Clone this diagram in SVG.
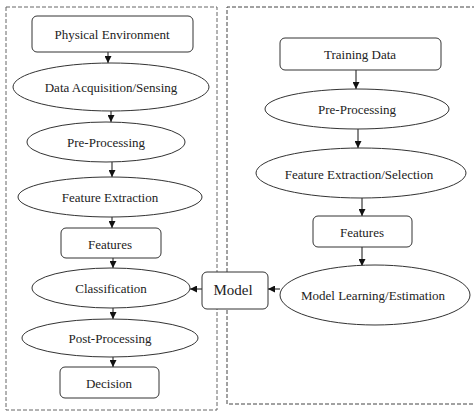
<svg xmlns="http://www.w3.org/2000/svg" width="474" height="412" viewBox="0 0 474 412">
<defs>
<marker id="ah" viewBox="0 0 10 10" refX="10" refY="5" markerWidth="7" markerHeight="7" markerUnits="userSpaceOnUse" orient="auto">
<path d="M0,0 L10,5 L0,10 z" fill="#111"/>
</marker>
</defs>
<style>
.box{fill:#fff;stroke:#333;stroke-width:1}
.ell{fill:#fff;stroke:#333;stroke-width:1}
.t{font-family:'Liberation Serif','DejaVu Serif',serif;font-size:13px;fill:#222;text-anchor:middle;dominant-baseline:central}
.dash{fill:none;stroke:#666;stroke-width:1;stroke-dasharray:4,2}
.dash2{fill:none;stroke:#444;stroke-width:1;stroke-dasharray:4,2}
.c{stroke:#111;stroke-width:1;fill:none;marker-end:url(#ah)}
</style>
<rect width="474" height="412" fill="#fff"/>
<g id="panels">
<rect class="dash" x="6" y="7" width="211" height="403"/>
<path class="dash2" d="M476,7 H227 V404 H476"/>
</g>
<g id="connectors">
<line class="c" x1="108" y1="52" x2="108" y2="63"/>
<line class="c" x1="111" y1="111" x2="111" y2="122"/>
<line class="c" x1="112" y1="162" x2="112" y2="177"/>
<line class="c" x1="112" y1="217" x2="112" y2="228"/>
<line class="c" x1="113" y1="258" x2="113" y2="268"/>
<line class="c" x1="113" y1="308" x2="113" y2="319"/>
<line class="c" x1="113" y1="357" x2="113" y2="367"/>
<line class="c" x1="202" y1="289" x2="190" y2="289"/>
<line class="c" x1="356" y1="70" x2="356" y2="89"/>
<line class="c" x1="358" y1="129" x2="358" y2="148"/>
<line class="c" x1="362" y1="198" x2="362" y2="216"/>
<line class="c" x1="362" y1="247" x2="362" y2="266"/>
<line class="c" x1="280" y1="289" x2="268" y2="289"/>
</g>
<g id="physical-environment"><rect class="box" x="32" y="16" width="161" height="36" rx="5"/><text class="t" x="112" y="34">Physical Environment</text></g>
<g id="data-acquisition"><ellipse class="ell" cx="111" cy="87" rx="98" ry="24"/><text class="t" x="111" y="87">Data Acquisition/Sensing</text></g>
<g id="pre-processing-left"><ellipse class="ell" cx="106" cy="142" rx="79" ry="20"/><text class="t" x="106" y="142">Pre-Processing</text></g>
<g id="feature-extraction"><ellipse class="ell" cx="110" cy="197" rx="92" ry="20"/><text class="t" x="110" y="197">Feature Extraction</text></g>
<g id="features-left"><rect class="box" x="61" y="228" width="100" height="30" rx="5"/><text class="t" x="110" y="244">Features</text></g>
<g id="classification"><ellipse class="ell" cx="111" cy="288" rx="79" ry="20"/><text class="t" x="111" y="288">Classification</text></g>
<g id="post-processing"><ellipse class="ell" cx="110" cy="338" rx="88" ry="19"/><text class="t" x="110" y="338">Post-Processing</text></g>
<g id="decision"><rect class="box" x="60" y="367" width="99" height="31" rx="5"/><text class="t" x="109" y="383">Decision</text></g>
<g id="model"><rect class="box" x="202" y="272" width="66" height="37" rx="5"/><text class="t" x="233" y="290" style="font-size:15px">Model</text></g>
<g id="training-data"><rect class="box" x="280" y="38" width="161" height="32" rx="5"/><text class="t" x="360" y="54">Training Data</text></g>
<g id="pre-processing-right"><ellipse class="ell" cx="357" cy="109" rx="92" ry="20"/><text class="t" x="357" y="109">Pre-Processing</text></g>
<g id="feature-extraction-selection"><ellipse class="ell" cx="361" cy="173" rx="105" ry="25"/><text class="t" x="359" y="174">Feature Extraction/Selection</text></g>
<g id="features-right"><rect class="box" x="313" y="216" width="99" height="31" rx="5"/><text class="t" x="362" y="232">Features</text></g>
<g id="model-learning"><ellipse class="ell" cx="375" cy="295" rx="95" ry="30"/><text class="t" x="373" y="295">Model Learning/Estimation</text></g>
</svg>
